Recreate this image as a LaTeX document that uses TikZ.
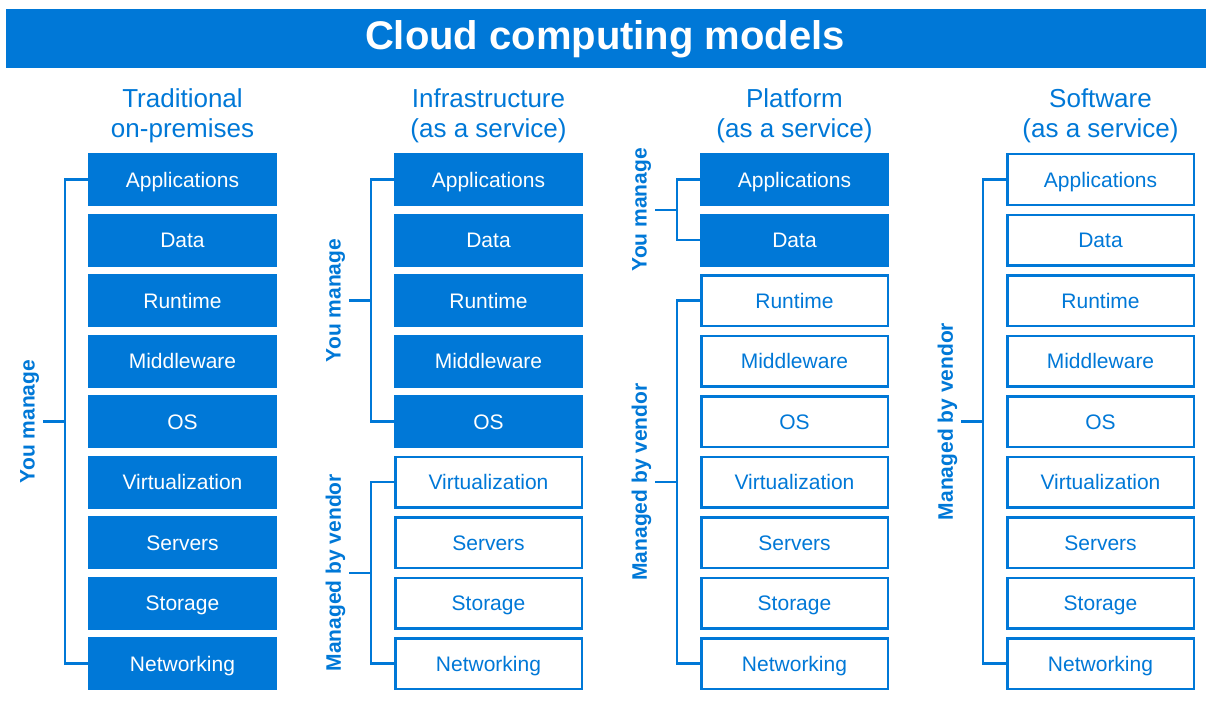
\documentclass[tikz,border=0pt]{standalone}
\usepackage{fontspec}
\setmainfont{Liberation Sans}
\usetikzlibrary{calc}
\definecolor{azure}{RGB}{0,120,215}
\newcommand\brk[4]{%
  \draw[bracket] (#1.west) -- ++(-23,0) |- (#2.west);
  \path ($(#1.west)!0.5!(#2.west)$) ++(-23,0) coordinate (#4m) ++(-22,0) coordinate (#4e);
  \draw[bracket] (#4m) -- (#4e);
  \node[side,anchor=south] (#4l) at ($(#4e)+(-8,0)$) {#3};}
\begin{document}
\begin{tikzpicture}[x=1pt,y=-1pt,
  layer/.style={minimum width=189pt,minimum height=53pt,inner sep=0pt,text height=15pt,text depth=0pt,font=\fontsize{21}{25}\selectfont},
  mine/.style={layer,fill=azure,text=white},
  vendor/.style={layer,draw=azure,line width=2.5pt,minimum width=186.5pt,minimum height=50.5pt,text=azure,fill=white},
  bracket/.style={draw=azure,line width=2.5pt},
  side/.style={rotate=90,font=\bfseries\fontsize{21}{25}\selectfont,text=azure,inner sep=0pt,text height=15pt,text depth=0pt},
  head/.style={font=\fontsize{26}{30}\selectfont,text=azure,anchor=base,inner sep=0pt}]
\useasboundingbox (0,0) rectangle (1216,706);
\fill[azure] (6,9) rectangle (1206,68);
\node[anchor=base,inner sep=0pt,text=white,font=\bfseries\fontsize{40}{48}\selectfont] (title) at (605,50) {Cloud computing models};
\foreach \c/\k/\ha/\hb in {1/9/Traditional/on-premises,2/5/Infrastructure/(as a service),3/2/Platform/(as a service),4/0/Software/(as a service)} {
  \pgfmathsetmacro\cx{182.5+306*(\c-1)}
  \node[head] (h\c a) at (\cx,108) {\ha};
  \node[head] (h\c b) at (\cx,138) {\hb};
  \foreach \t [count=\r] in {Applications,Data,Runtime,Middleware,OS,Virtualization,Servers,Storage,Networking} {
    \pgfmathsetmacro\cy{179.5+60.5*(\r-1)}
    \ifnum\r>\k
      \node[vendor] (c\c r\r) at (\cx,\cy) {\t};
    \else
      \node[mine] (c\c r\r) at (\cx,\cy) {\t};
    \fi
  }
}
\brk{c1r1}{c1r9}{You manage}{a}
\brk{c2r1}{c2r5}{You manage}{b}
\brk{c2r6}{c2r9}{Managed by vendor}{c}
\brk{c3r1}{c3r2}{You manage}{d}
\brk{c3r3}{c3r9}{Managed by vendor}{e}
\brk{c4r1}{c4r9}{Managed by vendor}{f}
\end{tikzpicture}
\end{document}
